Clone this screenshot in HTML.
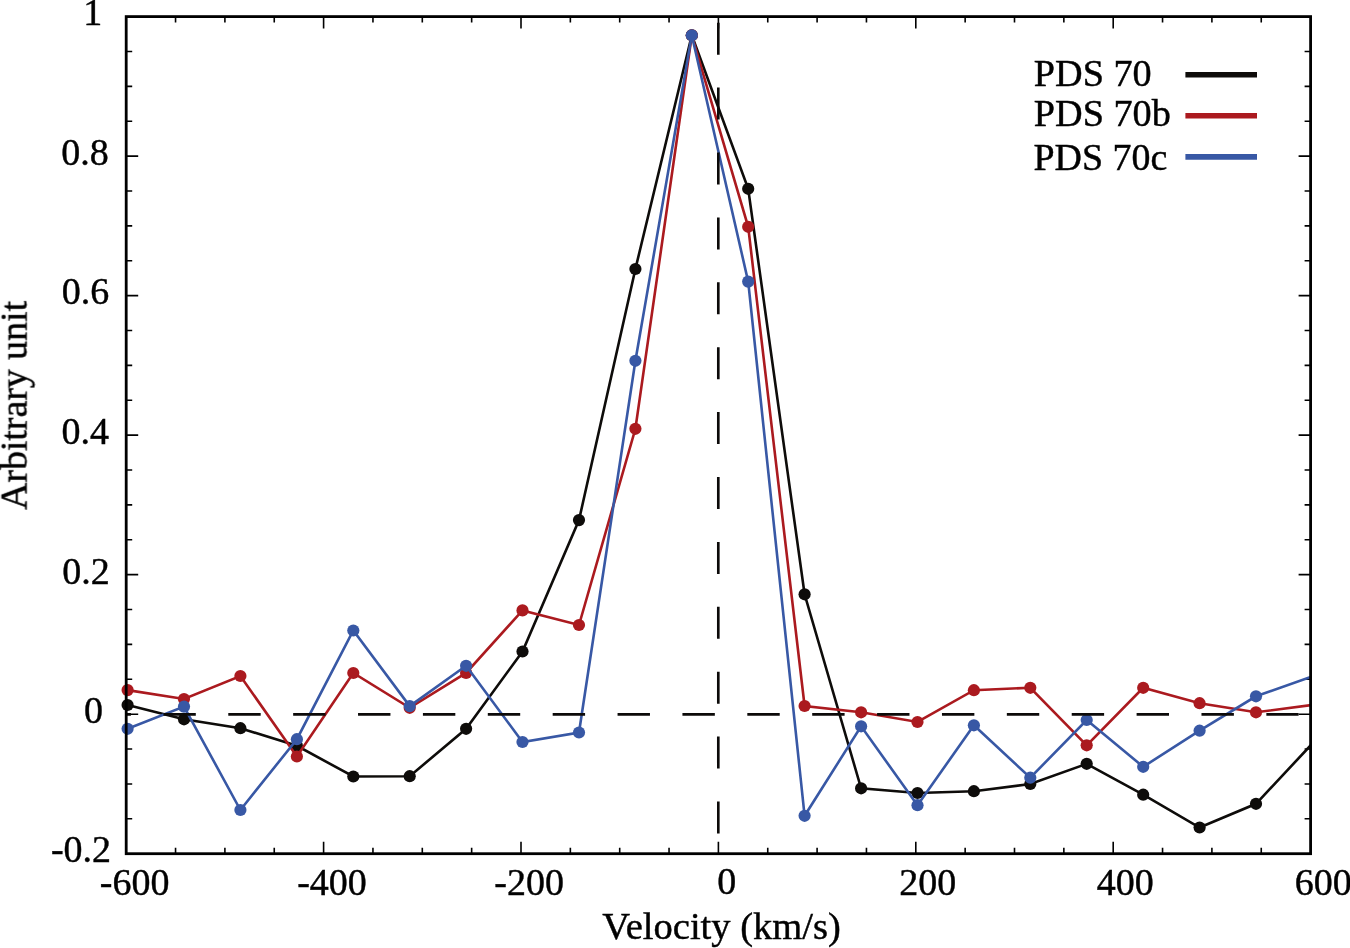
<!DOCTYPE html><html><head><meta charset="utf-8"><style>html,body{margin:0;padding:0;background:#fff;overflow:hidden}svg{display:block}text{font-family:"Liberation Serif",serif;fill:#000;stroke:#000;stroke-width:0.45px}</style></head><body>
<svg width="1350" height="948" viewBox="0 0 1350 948">
<defs><clipPath id="c"><rect x="126.2" y="16.6" width="1184.3999999999999" height="837.1"/></clipPath></defs>
<path d="M175.55 853.7v-6M175.55 16.6v6M224.90 853.7v-6M224.90 16.6v6M274.25 853.7v-6M274.25 16.6v6M323.60 853.7v-12M323.60 16.6v12M372.95 853.7v-6M372.95 16.6v6M422.30 853.7v-6M422.30 16.6v6M471.65 853.7v-6M471.65 16.6v6M521.00 853.7v-12M521.00 16.6v12M570.35 853.7v-6M570.35 16.6v6M619.70 853.7v-6M619.70 16.6v6M669.05 853.7v-6M669.05 16.6v6M718.40 853.7v-12M718.40 16.6v12M767.75 853.7v-6M767.75 16.6v6M817.10 853.7v-6M817.10 16.6v6M866.45 853.7v-6M866.45 16.6v6M915.80 853.7v-12M915.80 16.6v12M965.15 853.7v-6M965.15 16.6v6M1014.50 853.7v-6M1014.50 16.6v6M1063.85 853.7v-6M1063.85 16.6v6M1113.20 853.7v-12M1113.20 16.6v12M1162.55 853.7v-6M1162.55 16.6v6M1211.90 853.7v-6M1211.90 16.6v6M1261.25 853.7v-6M1261.25 16.6v6M126.2 818.82h6M1310.6 818.82h-6M126.2 783.94h6M1310.6 783.94h-6M126.2 749.06h6M1310.6 749.06h-6M126.2 714.18h12M1310.6 714.18h-12M126.2 679.30h6M1310.6 679.30h-6M126.2 644.42h6M1310.6 644.42h-6M126.2 609.55h6M1310.6 609.55h-6M126.2 574.67h12M1310.6 574.67h-12M126.2 539.79h6M1310.6 539.79h-6M126.2 504.91h6M1310.6 504.91h-6M126.2 470.03h6M1310.6 470.03h-6M126.2 435.15h12M1310.6 435.15h-12M126.2 400.27h6M1310.6 400.27h-6M126.2 365.39h6M1310.6 365.39h-6M126.2 330.51h6M1310.6 330.51h-6M126.2 295.63h12M1310.6 295.63h-12M126.2 260.75h6M1310.6 260.75h-6M126.2 225.88h6M1310.6 225.88h-6M126.2 191.00h6M1310.6 191.00h-6M126.2 156.12h12M1310.6 156.12h-12M126.2 121.24h6M1310.6 121.24h-6M126.2 86.36h6M1310.6 86.36h-6M126.2 51.48h6M1310.6 51.48h-6" stroke="#000" stroke-width="1.6" fill="none"/>
<polyline points="127.6,705.0 184.0,719.3 240.4,728.2 296.9,745.8 353.3,776.5 409.7,776.2 466.1,728.8 522.5,651.5 579.0,520.1 635.4,269.0 691.8,35.3 748.2,188.8 804.6,594.3 861.1,788.3 917.5,793.0 973.9,791.2 1030.3,784.0 1086.7,763.8 1143.2,794.7 1199.6,827.5 1256.0,803.8 1312.4,743.5" fill="none" stroke="#0e0c0a" stroke-width="2.6" stroke-linejoin="miter" clip-path="url(#c)"/><circle cx="127.6" cy="705.0" r="6.1" fill="#0e0c0a"/><circle cx="184.0" cy="719.3" r="6.1" fill="#0e0c0a"/><circle cx="240.4" cy="728.2" r="6.1" fill="#0e0c0a"/><circle cx="296.9" cy="745.8" r="6.1" fill="#0e0c0a"/><circle cx="353.3" cy="776.5" r="6.1" fill="#0e0c0a"/><circle cx="409.7" cy="776.2" r="6.1" fill="#0e0c0a"/><circle cx="466.1" cy="728.8" r="6.1" fill="#0e0c0a"/><circle cx="522.5" cy="651.5" r="6.1" fill="#0e0c0a"/><circle cx="579.0" cy="520.1" r="6.1" fill="#0e0c0a"/><circle cx="635.4" cy="269.0" r="6.1" fill="#0e0c0a"/><circle cx="691.8" cy="35.3" r="6.1" fill="#0e0c0a"/><circle cx="748.2" cy="188.8" r="6.1" fill="#0e0c0a"/><circle cx="804.6" cy="594.3" r="6.1" fill="#0e0c0a"/><circle cx="861.1" cy="788.3" r="6.1" fill="#0e0c0a"/><circle cx="917.5" cy="793.0" r="6.1" fill="#0e0c0a"/><circle cx="973.9" cy="791.2" r="6.1" fill="#0e0c0a"/><circle cx="1030.3" cy="784.0" r="6.1" fill="#0e0c0a"/><circle cx="1086.7" cy="763.8" r="6.1" fill="#0e0c0a"/><circle cx="1143.2" cy="794.7" r="6.1" fill="#0e0c0a"/><circle cx="1199.6" cy="827.5" r="6.1" fill="#0e0c0a"/><circle cx="1256.0" cy="803.8" r="6.1" fill="#0e0c0a"/>
<polyline points="127.6,690.1 184.0,699.0 240.4,676.0 296.9,756.5 353.3,673.0 409.7,707.8 466.1,672.9 522.5,610.4 579.0,625.0 635.4,428.8 691.8,35.3 748.2,226.8 804.6,706.0 861.1,712.3 917.5,722.0 973.9,690.2 1030.3,687.8 1086.7,745.3 1143.2,687.8 1199.6,703.2 1256.0,712.3 1312.4,705.0" fill="none" stroke="#ab1a1f" stroke-width="2.6" stroke-linejoin="miter" clip-path="url(#c)"/><circle cx="127.6" cy="690.1" r="6.1" fill="#ab1a1f"/><circle cx="184.0" cy="699.0" r="6.1" fill="#ab1a1f"/><circle cx="240.4" cy="676.0" r="6.1" fill="#ab1a1f"/><circle cx="296.9" cy="756.5" r="6.1" fill="#ab1a1f"/><circle cx="353.3" cy="673.0" r="6.1" fill="#ab1a1f"/><circle cx="409.7" cy="707.8" r="6.1" fill="#ab1a1f"/><circle cx="466.1" cy="672.9" r="6.1" fill="#ab1a1f"/><circle cx="522.5" cy="610.4" r="6.1" fill="#ab1a1f"/><circle cx="579.0" cy="625.0" r="6.1" fill="#ab1a1f"/><circle cx="635.4" cy="428.8" r="6.1" fill="#ab1a1f"/><circle cx="691.8" cy="35.3" r="6.1" fill="#ab1a1f"/><circle cx="748.2" cy="226.8" r="6.1" fill="#ab1a1f"/><circle cx="804.6" cy="706.0" r="6.1" fill="#ab1a1f"/><circle cx="861.1" cy="712.3" r="6.1" fill="#ab1a1f"/><circle cx="917.5" cy="722.0" r="6.1" fill="#ab1a1f"/><circle cx="973.9" cy="690.2" r="6.1" fill="#ab1a1f"/><circle cx="1030.3" cy="687.8" r="6.1" fill="#ab1a1f"/><circle cx="1086.7" cy="745.3" r="6.1" fill="#ab1a1f"/><circle cx="1143.2" cy="687.8" r="6.1" fill="#ab1a1f"/><circle cx="1199.6" cy="703.2" r="6.1" fill="#ab1a1f"/><circle cx="1256.0" cy="712.3" r="6.1" fill="#ab1a1f"/>
<polyline points="127.6,728.8 184.0,706.6 240.4,810.0 296.9,739.2 353.3,630.5 409.7,706.1 466.1,665.8 522.5,742.0 579.0,732.5 635.4,360.8 691.8,35.3 748.2,281.6 804.6,815.8 861.1,726.3 917.5,805.2 973.9,725.3 1030.3,777.7 1086.7,720.0 1143.2,766.8 1199.6,730.7 1256.0,696.3 1312.4,676.4" fill="none" stroke="#3858a5" stroke-width="2.6" stroke-linejoin="miter" clip-path="url(#c)"/><circle cx="127.6" cy="728.8" r="6.1" fill="#3858a5"/><circle cx="184.0" cy="706.6" r="6.1" fill="#3858a5"/><circle cx="240.4" cy="810.0" r="6.1" fill="#3858a5"/><circle cx="296.9" cy="739.2" r="6.1" fill="#3858a5"/><circle cx="353.3" cy="630.5" r="6.1" fill="#3858a5"/><circle cx="409.7" cy="706.1" r="6.1" fill="#3858a5"/><circle cx="466.1" cy="665.8" r="6.1" fill="#3858a5"/><circle cx="522.5" cy="742.0" r="6.1" fill="#3858a5"/><circle cx="579.0" cy="732.5" r="6.1" fill="#3858a5"/><circle cx="635.4" cy="360.8" r="6.1" fill="#3858a5"/><circle cx="691.8" cy="35.3" r="6.1" fill="#3858a5"/><circle cx="748.2" cy="281.6" r="6.1" fill="#3858a5"/><circle cx="804.6" cy="815.8" r="6.1" fill="#3858a5"/><circle cx="861.1" cy="726.3" r="6.1" fill="#3858a5"/><circle cx="917.5" cy="805.2" r="6.1" fill="#3858a5"/><circle cx="973.9" cy="725.3" r="6.1" fill="#3858a5"/><circle cx="1030.3" cy="777.7" r="6.1" fill="#3858a5"/><circle cx="1086.7" cy="720.0" r="6.1" fill="#3858a5"/><circle cx="1143.2" cy="766.8" r="6.1" fill="#3858a5"/><circle cx="1199.6" cy="730.7" r="6.1" fill="#3858a5"/><circle cx="1256.0" cy="696.3" r="6.1" fill="#3858a5"/>
<g clip-path="url(#c)">
<path d="M126.20 714.4H130.92M163.40 714.4H195.80M228.28 714.4H260.68M293.16 714.4H325.56M358.04 714.4H390.44M422.92 714.4H455.32M487.80 714.4H520.20M552.68 714.4H585.08M617.56 714.4H649.96M682.44 714.4H714.84M747.32 714.4H779.72M812.20 714.4H844.60M877.08 714.4H909.48M941.96 714.4H974.36M1006.84 714.4H1039.24M1071.72 714.4H1104.12M1136.60 714.4H1169.00M1201.48 714.4H1233.88M1266.36 714.4H1298.60M718.3 22.70V54.70M718.3 87.60V119.60M718.3 152.50V184.50M718.3 217.40V249.40M718.3 282.30V314.30M718.3 347.20V379.20M718.3 412.10V444.10M718.3 477.00V509.00M718.3 541.90V573.90M718.3 606.80V638.80M718.3 671.70V703.70M718.3 736.60V768.60M718.3 801.50V833.50" stroke="#0c0a09" stroke-width="2.65" fill="none"/>
</g>
<rect x="126.2" y="16.6" width="1184.3999999999999" height="837.1" fill="none" stroke="#000" stroke-width="2.8"/>
<line x1="1185.4" y1="74.7" x2="1257" y2="74.7" stroke="#0e0c0a" stroke-width="5.6"/>
<line x1="1185.4" y1="115.80000000000001" x2="1257" y2="115.80000000000001" stroke="#ab1a1f" stroke-width="5.6"/>
<line x1="1185.4" y1="156.9" x2="1257" y2="156.9" stroke="#3858a5" stroke-width="5.6"/>
<g opacity="0.999">
<text transform="translate(83.35 25.40) scale(0.9850 1)" font-size="38.6">1</text>
<text transform="translate(61.35 165.25) scale(0.9850 1)" font-size="38.6">0.8</text>
<text transform="translate(61.69 304.20) scale(0.9850 1)" font-size="38.6">0.6</text>
<text transform="translate(61.45 444.10) scale(0.9850 1)" font-size="38.6">0.4</text>
<text transform="translate(62.16 583.60) scale(0.9850 1)" font-size="38.6">0.2</text>
<text transform="translate(83.94 723.35) scale(0.9850 1)" font-size="38.6">0</text>
<text transform="translate(50.89 862.40) scale(0.9850 1)" font-size="38.6">-0.2</text>
<text transform="translate(99.72 894.60) scale(0.9850 1)" font-size="38.6">-600</text>
<text transform="translate(297.20 894.60) scale(0.9850 1)" font-size="38.6">-400</text>
<text transform="translate(494.25 894.60) scale(0.9850 1)" font-size="38.6">-200</text>
<text transform="translate(717.15 894.05) scale(0.9850 1)" font-size="38.6">0</text>
<text transform="translate(899.14 894.60) scale(0.9850 1)" font-size="38.6">200</text>
<text transform="translate(1096.84 894.60) scale(0.9850 1)" font-size="38.6">400</text>
<text transform="translate(1294.70 894.60) scale(0.9850 1)" font-size="38.6">600</text>
<text transform="translate(602.23 938.80) scale(0.9981 1)" font-size="38.6">Velocity (km/s)</text>
<text transform="translate(26.60 509.89) rotate(-90) scale(0.9797 1)" font-size="38.6">Arbitrary unit</text>
<text transform="translate(1033.81 85.50) scale(0.9900 1)" font-size="38.6">PDS 70</text>
<text transform="translate(1033.81 126.45) scale(0.9902 1)" font-size="38.6">PDS 70b</text>
<text transform="translate(1033.54 170.15) scale(0.9819 1)" font-size="38.6">PDS 70c</text>
</g>
</svg></body></html>
